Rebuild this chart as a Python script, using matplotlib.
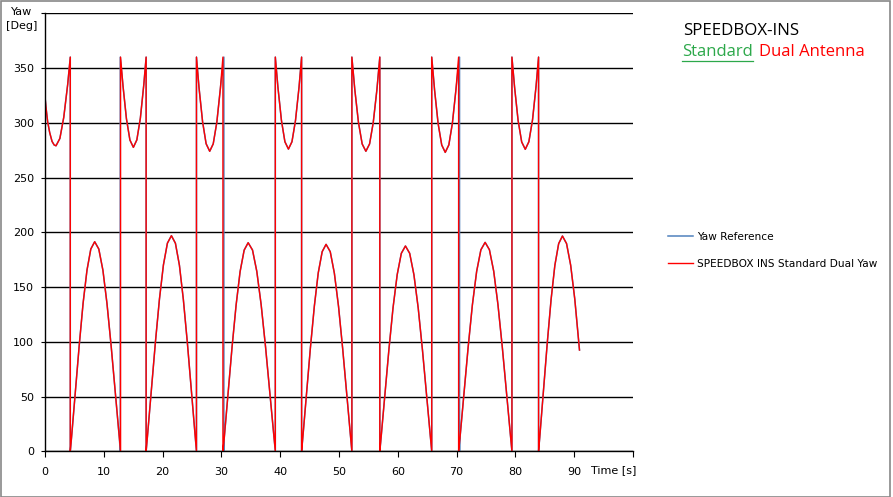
import matplotlib.pyplot as plt
from matplotlib.patches import Rectangle
from matplotlib.lines import Line2D

# samples: time [s] and displayed (wrapped) yaw [deg]
time_s = [
    0.00, 0.15, 0.45, 0.80, 1.20, 1.55, 1.87,
    2.53, 3.19, 3.86, 4.52, 5.17, 5.83, 6.48, 7.14, 7.79, 8.45,
    9.15, 9.85, 10.54, 11.24, 11.94, 12.64, 13.26, 13.85, 14.44, 15.03,
    15.62, 16.22, 16.81, 17.43, 18.11, 18.79, 19.47, 20.14, 20.82, 21.50,
    22.18, 22.86, 23.53, 24.21, 24.89, 25.57, 26.19, 26.80, 27.40, 28.01,
    28.61, 29.22, 29.82, 30.44, 31.13, 31.81, 32.50, 33.18, 33.87, 34.55,
    35.29, 36.02, 36.76, 37.50, 38.24, 38.97, 39.61, 40.21, 40.80, 41.40,
    42.00, 42.60, 43.20, 43.81, 44.48, 45.14, 45.81, 46.47, 47.14, 47.80,
    48.51, 49.21, 49.92, 50.62, 51.33, 52.03, 52.68, 53.31, 53.94, 54.57,
    55.20, 55.82, 56.45, 57.09, 57.79, 58.49, 59.19, 59.90, 60.60, 61.30,
    62.02, 62.74, 63.47, 64.19, 64.91, 65.63, 66.26, 66.86, 67.47, 68.07,
    68.68, 69.28, 69.89, 70.52, 71.24, 71.96, 72.68, 73.41, 74.13, 74.85,
    75.58, 76.31, 77.03, 77.76, 78.49, 79.22, 79.86, 80.46, 81.07, 81.68,
    82.29, 82.91, 83.52, 84.14, 84.78, 85.43, 86.07, 86.71, 87.36, 88.00,
    88.70, 89.40, 90.10, 90.90,
]
yaw_deg = [
    324.0, 315.0, 301.0, 291.0, 283.0, 279.8, 279.0,
    285.7, 305.0, 335.1, 13.1, 55.2, 97.3, 135.3, 165.4, 184.7, 191.4,
    184.7, 165.3, 135.0, 96.8, 54.5, 12.2, 334.0, 303.7, 284.3, 277.6,
    284.4, 304.3, 335.2, 14.1, 57.3, 100.4, 139.3, 170.2, 190.1, 196.9,
    190.0, 169.9, 138.6, 99.2, 55.5, 11.7, 332.3, 301.0, 280.9, 274.0,
    280.8, 300.4, 331.0, 9.5, 52.3, 95.0, 133.5, 164.1, 183.7, 190.5,
    183.8, 164.3, 133.9, 95.7, 53.3, 10.8, 332.6, 302.2, 282.7, 276.0,
    282.7, 302.1, 332.3, 10.3, 52.5, 94.7, 132.7, 162.9, 182.3, 189.0,
    182.3, 162.7, 132.3, 94.0, 51.5, 9.0, 330.7, 300.3, 280.7, 274.0,
    280.7, 300.1, 330.4, 8.5, 50.8, 93.0, 131.1, 161.4, 180.8, 187.5,
    180.8, 161.3, 130.9, 92.7, 50.3, 7.8, 329.6, 299.2, 279.7, 273.0,
    279.8, 299.5, 330.3, 9.0, 51.9, 94.8, 133.5, 164.3, 184.0, 190.8,
    184.1, 164.5, 134.1, 95.8, 53.3, 10.8, 332.5, 302.1, 282.5, 275.8,
    282.7, 302.6, 333.7, 12.8, 56.2, 99.6, 138.7, 169.8, 189.7, 196.6,
    189.7, 169.9, 138.9, 92.5,
]
# times where each trace jumps between 360 and 0
wrap_ref = [4.30, 12.80, 17.20, 25.76, 30.42, 39.17, 43.64, 52.19,
            56.94, 65.77, 70.50, 79.41, 83.94]
wrap_dual = [4.30, 12.85, 17.20, 25.76, 30.26, 39.17, 43.64, 52.19,
             56.94, 65.77, 70.34, 79.41, 83.94]


def with_wraps(t, y, wraps):
    xs, ys = [], []
    wi = 0
    for tt, v in zip(t, y):
        while wi < len(wraps) and wraps[wi] < tt:
            xs += [wraps[wi], wraps[wi]]
            ys += [360, 0] if ys[-1] > 180 else [0, 360]
            wi += 1
        xs.append(tt)
        ys.append(v)
    return xs, ys


fig = plt.figure(figsize=(8.93, 4.97), dpi=100)
ax = fig.add_axes([45 / 893, 45.7 / 497, 588 / 893, 438 / 497])

ax.plot(*with_wraps(time_s, yaw_deg, wrap_ref), color='#4f81bd', lw=1.1,
        label='Yaw Reference')
ax.plot(*with_wraps(time_s, yaw_deg, wrap_dual), color='#ff0000', lw=1.0,
        label='SPEEDBOX INS Standard Dual Yaw')

ax.set_xlim(0, 100)
ax.set_ylim(0, 400)
ax.set_xticks(range(0, 101, 10))
ax.set_xticklabels([str(v) for v in range(0, 91, 10)] + [''])
ax.set_yticks(range(0, 401, 50))
ax.set_yticklabels([str(v) for v in range(0, 351, 50)] + [''])
ax.yaxis.grid(True, color='black', lw=1)
ax.set_axisbelow(True)
for s in ['top', 'right']:
    ax.spines[s].set_visible(False)
for s in ['left', 'bottom']:
    ax.spines[s].set_color('black')
    ax.spines[s].set_linewidth(1)
ax.tick_params(axis='y', length=3, pad=5, labelsize=8, colors='black')
ax.tick_params(axis='x', length=4, pad=7.5, labelsize=8, colors='black')

fig.text(614 / 893, 1 - 470 / 497, 'Time [s]', ha='center', va='center', fontsize=8)
fig.text(22 / 893, 1 - 19 / 497, 'Yaw\n[Deg]', ha='center', va='center',
         fontsize=8, linespacing=1.4, multialignment='center')

ax.legend(loc='upper left', bbox_to_anchor=(668 / 893, 1 - 232 / 497),
          bbox_transform=fig.transFigure, frameon=False, fontsize=7.6,
          handlelength=2.4, handletextpad=0.35, labelspacing=1.6,
          borderpad=0, borderaxespad=0)

fig.text(683 / 893, 1 - 31 / 497, 'SPEEDBOX-INS', fontsize=12.2, va='center',
         ha='left', color='black', family='Open Sans')
t1 = fig.text(682 / 893, 1 - 52 / 497, 'Standard', fontsize=12, va='center',
              ha='left', color='#2ca84a', family='Open Sans')
r = fig.canvas.get_renderer()
bb = t1.get_window_extent(r)
x_end = bb.x1 / fig.bbox.width
fig.text(x_end + 6 / 893, 1 - 52 / 497, 'Dual Antenna', fontsize=12, va='center',
         ha='left', color='#ff0000', family='Open Sans')
fig.lines.append(Line2D([682 / 893, x_end], [1 - 61 / 497, 1 - 61 / 497],
                        transform=fig.transFigure, color='#2ca84a', lw=0.9))

fig.patches.append(Rectangle((0.001, 0.001), 0.9956, 0.997, transform=fig.transFigure,
                             fill=False, edgecolor='#888888', lw=1.2))

fig.savefig('out.png', dpi=100)
